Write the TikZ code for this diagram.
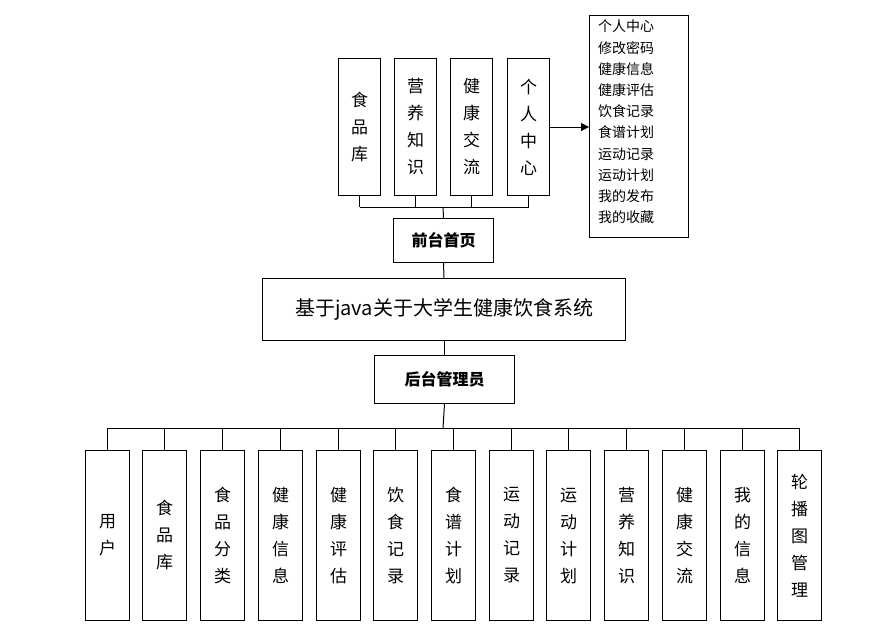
\documentclass[tikz,border=0pt]{standalone}
\usepackage{fontspec}
\setmainfont{Noto Sans CJK SC}
\usetikzlibrary{arrows.meta}
\begin{document}
\begin{tikzpicture}[x=1pt,y=-1pt,
  box/.style={draw,line width=1pt,inner sep=0pt,anchor=north west},
  vt/.style={font=\fontsize{17}{27}\selectfont,align=center},
  ln/.style={line width=1pt}]
\useasboundingbox (0,0) rectangle (885,638);
% top modules
\foreach \x/\n/\t in {338/a/食\\品\\库,394/b/营\\养\\知\\识,450/c/健\\康\\交\\流,507/d/个\\人\\中\\心}{
  \node[box,minimum width=42pt,minimum height=137pt] (\n) at (\x,58) {};
  \node[vt] at (\n.center) {\t};
}
\node[box,minimum width=99pt,minimum height=222pt] (r) at (589,15) {};
\node[font=\fontsize{14}{21.2}\selectfont,align=left,anchor=north west,inner sep=0pt] at (598,20)
 {个人中心\\修改密码\\健康信息\\健康评估\\饮食记录\\食谱计划\\运动记录\\运动计划\\我的发布\\我的收藏};
\draw[ln,-{Triangle[length=8pt,width=8pt]}] (d.east) -- (d.east -| r.west);
\node[box,minimum width=100pt,minimum height=44pt,font=\fontsize{16}{18}\selectfont] (q) at (393,218) {};
\node[font=\fontsize{16}{18}\selectfont\bfseries] at (q.center) {前台首页};
\coordinate (bt) at (443,207);
\foreach \n in {a,b,c,d}{\draw[ln] (\n.south) -- (\n.south |- bt);}
\draw[ln] (a.south |- bt) -- (d.south |- bt);
\draw[ln] (bt) -- (q.north);
\node[box,minimum width=363pt,minimum height=62pt] (m) at (262,278) {};
\node[font=\fontsize{20}{22}\selectfont] at (m.center) {基于java关于大学生健康饮食系统};
\draw[ln] (q.south) -- (m.north);
\node[box,minimum width=140pt,minimum height=48pt] (h) at (374,355) {};
\node[font=\fontsize{16}{18}\selectfont\bfseries] at (h.center) {后台管理员};
\draw[ln] (m.south) -- (h.south |- m.south) -- (h.north);
\coordinate (bb) at (443,428);
\draw[ln] (h.south) -- (bb);
\foreach \x/\n/\t in {85/u1/用\\户,142/u2/食\\品\\库,200/u3/食\\品\\分\\类,258/u4/健\\康\\信\\息,316/u5/健\\康\\评\\估,373/u6/饮\\食\\记\\录,431/u7/食\\谱\\计\\划,489/u8/运\\动\\记\\录,546/u9/运\\动\\计\\划,604/u10/营\\养\\知\\识,662/u11/健\\康\\交\\流,720/u12/我\\的\\信\\息,777/u13/轮\\播\\图\\管\\理}{
  \node[box,minimum width=44pt,minimum height=170pt] (\n) at (\x,450) {};
  \node[vt] at (\n.center) {\t};
  \draw[ln] (\n.north) -- (\n.north |- bb);
}
\draw[ln] (u1.north |- bb) -- (u13.north |- bb);
\end{tikzpicture}
\end{document}
